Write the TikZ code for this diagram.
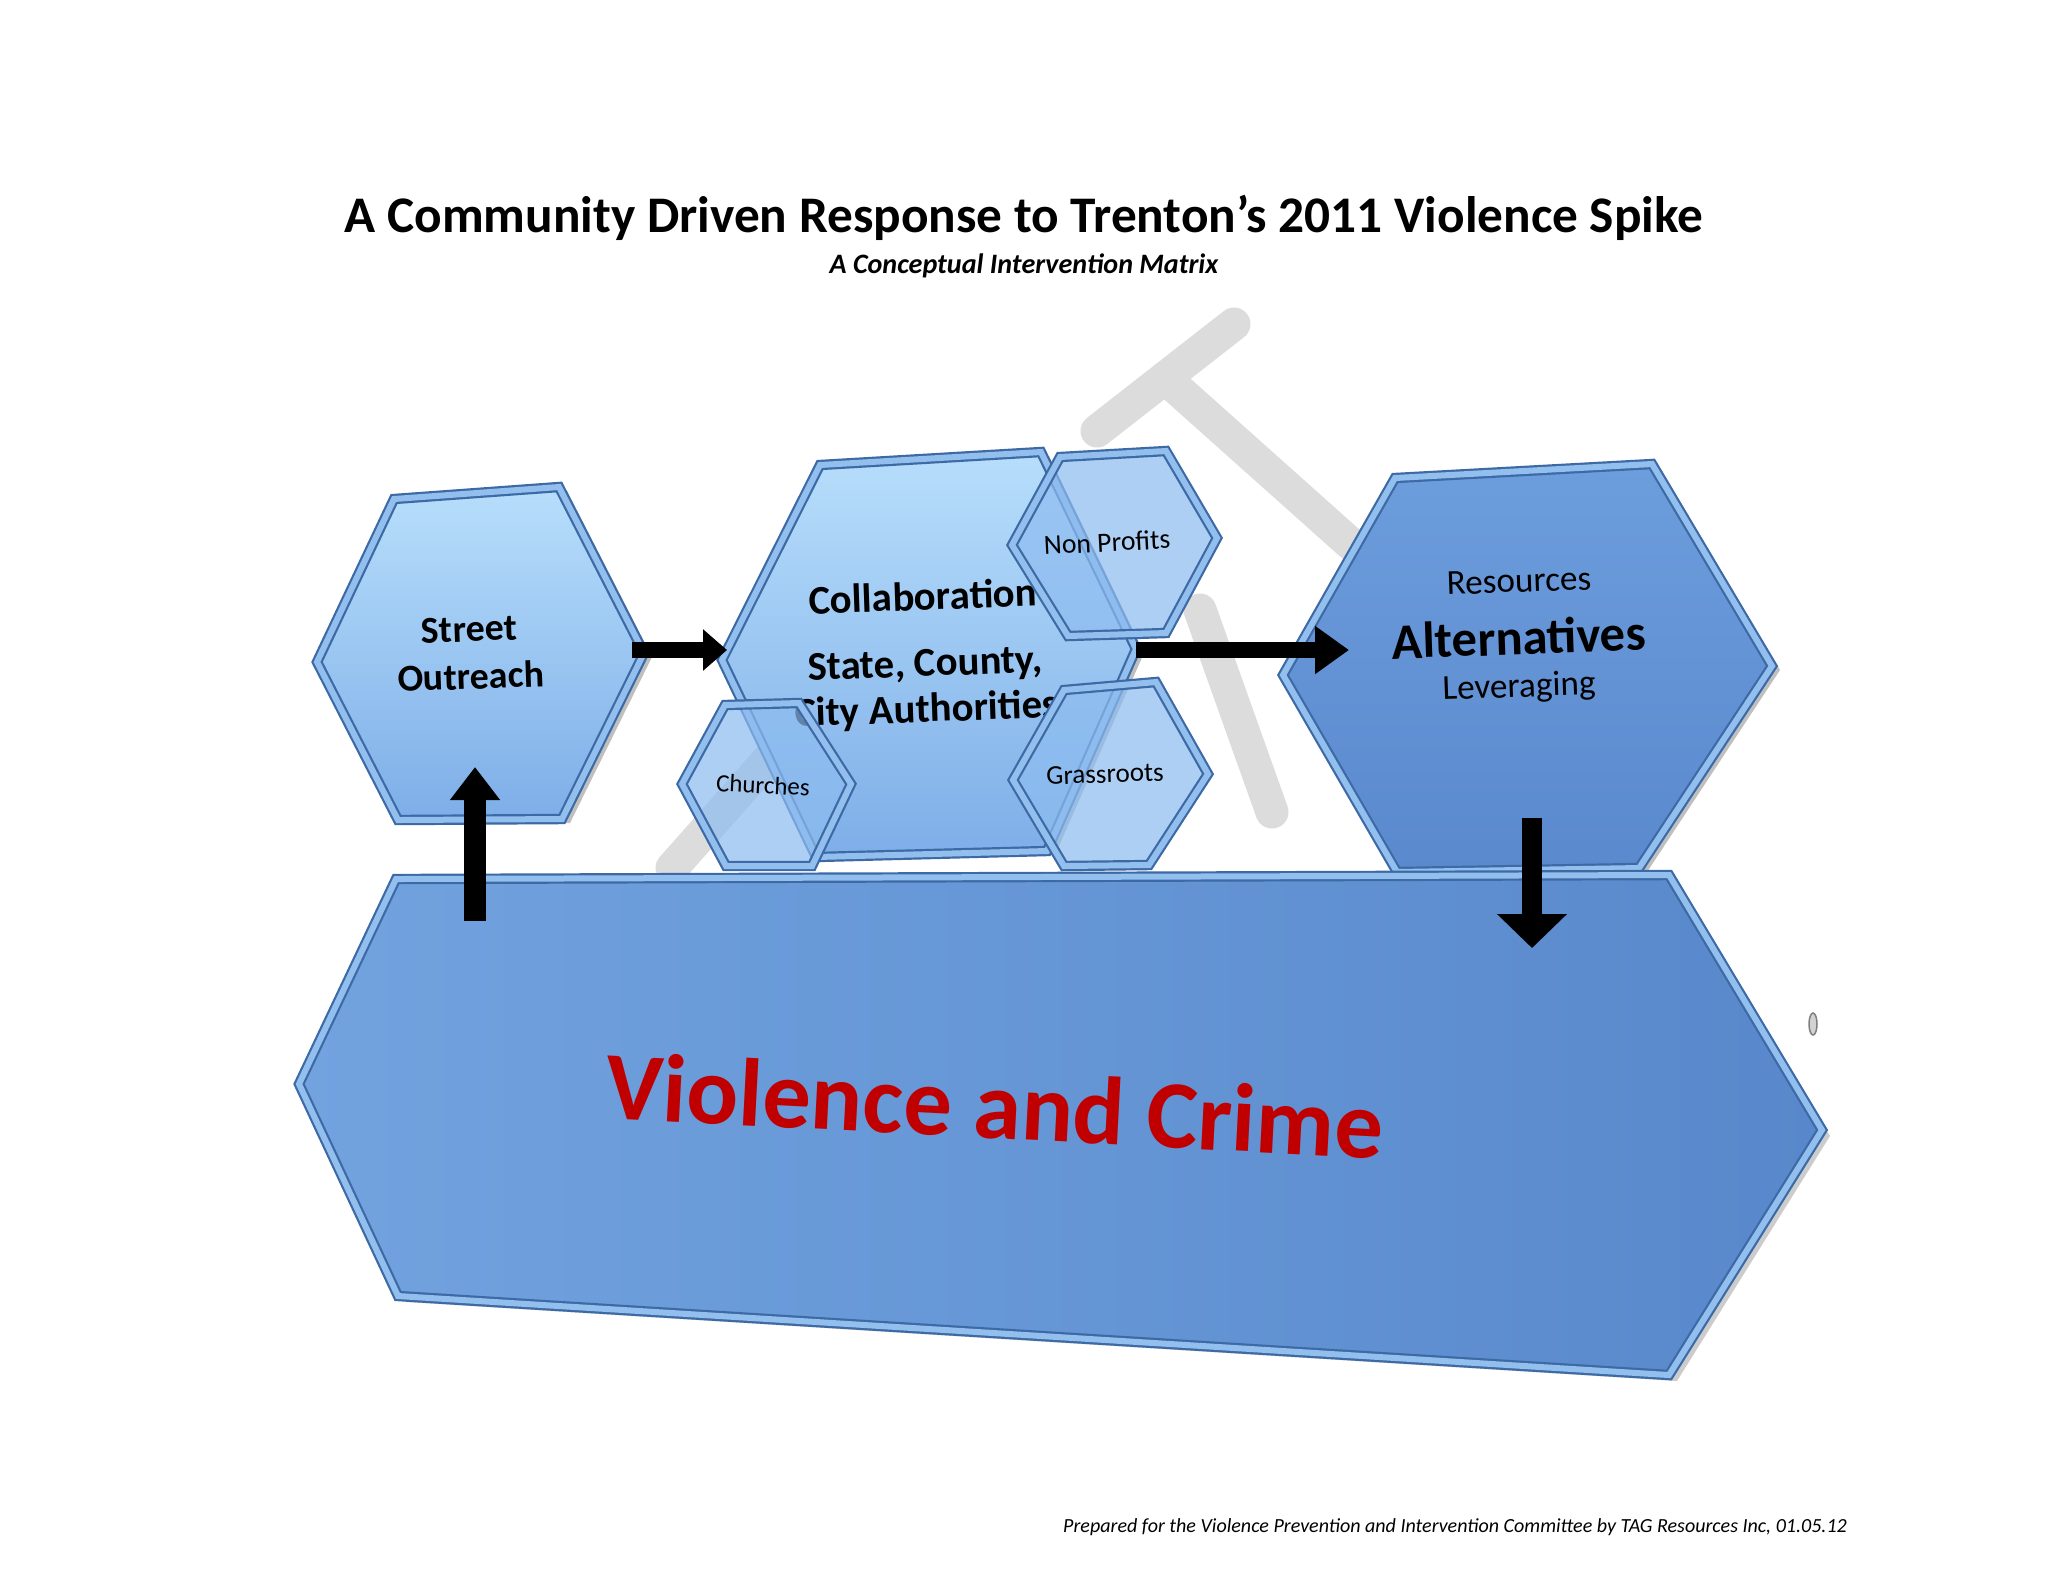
\documentclass[tikz,border=0pt]{standalone}
\usepackage{fontspec}
\setmainfont{Carlito}
\usetikzlibrary{arrows.meta,shadows}

\definecolor{hextop}{HTML}{B7DEFB}
\definecolor{hexbot}{HTML}{7EAEE8}
\definecolor{hexglass}{HTML}{8DBCF0}
\definecolor{alttop}{HTML}{6C9DDC}
\definecolor{altbot}{HTML}{5A89CE}
\definecolor{crimeleft}{HTML}{72A3DF}
\definecolor{crimeright}{HTML}{5888CB}
\definecolor{hexedge}{HTML}{3D6AA5}
\definecolor{hexbevel}{HTML}{93BFEE}
\definecolor{crimered}{HTML}{C00000}
\definecolor{logogray}{HTML}{DCDCDC}

\tikzset{
	hexline/.style={draw=hexedge, line width=0.22mm, double=hexbevel, double distance=0.6mm, line join=miter},
	hexbox/.style={hexline, top color=hextop, bottom color=hexbot,
		drop shadow={shadow xshift=0.8mm, shadow yshift=-0.4mm, opacity=0.5}},
	hexsmall/.style={hexline, fill=hexglass, fill opacity=0.7},
	hexdeep/.style={hexline, top color=alttop, bottom color=altbot,
		drop shadow={shadow xshift=0.8mm, shadow yshift=-0.4mm, opacity=0.5}},
	crimebox/.style={hexline, left color=crimeleft, right color=crimeright,
		drop shadow={shadow xshift=0.8mm, shadow yshift=-0.6mm, opacity=0.4}},
	logomark/.style={draw=logogray, line width=3.3mm, line cap=round},
	hextext/.style={text=black, align=center, inner sep=0pt},
	flowarrow/.style={draw=black, line width=#1}
}

\begin{document}
\begin{tikzpicture}[x=0.1mm,y=-0.1mm]
	
	\useasboundingbox[fill=white] (0,0) rectangle (2048,1582);
	
	\draw[logomark] (1097,431) -- (1234,324);
	\draw[logomark] (1165,378) -- (1352,545);
	\draw[logomark] (1200,610) -- (1272,812);
	\draw[logomark] (672,868) -- (790,735);
	
	\node[text = black,
	font = \bfseries\fontsize{14.6}{17}\selectfont] (title) at (1024,218) {A Community Driven Response to Trenton’s 2011 Violence Spike};
	
	\node[text = black,
	font = \bfseries\itshape\fontsize{8}{10}\selectfont] (subtitle) at (1024,266) {A Conceptual Intervention Matrix};
	
	\filldraw[hexbox] (394,499) -- (559,487) -- (644,653) -- (562,819) -- (398,820) -- (317,662) -- cycle;
	\node[hextext,
	rotate = 2,
	font = \bfseries\fontsize{10.8}{13.6}\selectfont] (outreach) at (470,653) {Street\\Outreach};
	
	\filldraw[hexbox] (820,465) -- (1041,452) -- (1136,649) -- (1047,851) -- (816,857) -- (722,660) -- cycle;
	\node[hextext,
	rotate = 2,
	font = \bfseries\fontsize{11.6}{13}\selectfont] (collab) at (923,596) {Collaboration};
	\node[hextext,
	rotate = 2,
	font = \bfseries\fontsize{11.6}{13}\selectfont] (authorities) at (926,689) {State, County,\\City Authorities};
	
	\filldraw[hexsmall] (1060,457) -- (1166,451) -- (1217,538) -- (1166,633) -- (1068,636) -- (1012,545) -- cycle;
	\node[hextext,
	rotate = 3,
	font = \fontsize{7.9}{9}\selectfont] (nonprofits) at (1107,542) {Non Profits};
	
	\filldraw[hexsmall] (1064,690) -- (1156,682) -- (1208,774) -- (1149,865) -- (1064,866) -- (1013,780) -- cycle;
	\node[hextext,
	rotate = 2,
	font = \fontsize{7.7}{9}\selectfont] (grassroots) at (1105,774) {Grassroots};
	
	\filldraw[hexsmall] (725,705) -- (799,703) -- (851,784) -- (812,866) -- (726,866) -- (682,784) -- cycle;
	\node[hextext,
	rotate = -3,
	font = \fontsize{7.1}{9}\selectfont] (churches) at (763,785) {Churches};
	
	\filldraw[hexdeep] (1395,478) -- (1652,464) -- (1772,666) -- (1639,868) -- (1397,872) -- (1283,675) -- cycle;
	\node[hextext,
	rotate = 2,
	font = \fontsize{10}{12}\selectfont] (resources) at (1519,581) {Resources};
	\node[hextext,
	rotate = 2,
	font = \bfseries\fontsize{14.4}{16}\selectfont] (alternatives) at (1519,637) {Alternatives};
	\node[hextext,
	rotate = 2,
	font = \fontsize{10}{12}\selectfont] (leveraging) at (1519,688) {Leveraging};
	
	\filldraw[crimebox] (396,879) -- (1669,875) -- (1822,1130) -- (1669,1375) -- (398,1296) -- (299,1084) -- cycle;
	\node[hextext,
	text = crimered,
	rotate = -3,
	font = \bfseries\fontsize{27.5}{30}\selectfont] (crime) at (995,1105) {Violence and Crime};
	
	\filldraw[draw=gray, fill=gray!35, line width=0.15mm] (1813,1024) ellipse [x radius=4, y radius=11];
	
	\coordinate (so-out) at (632,650);
	\coordinate (co-in) at (727,650);
	\coordinate (co-out) at (1136,650);
	\coordinate (al-in) at (1349,650);
	\coordinate (al-out) at (1532,818);
	\coordinate (vc-in) at (1532,948);
	\coordinate (vc-out) at (475,921);
	\coordinate (so-in) at (475,767);
	
	\draw[flowarrow=1.6mm, -{Triangle[length=2.4mm, width=4mm]}] (so-out) to (co-in);
	\draw[flowarrow=1.6mm, -{Triangle[length=3.4mm, width=4.6mm]}] (co-out) to (al-in);
	\draw[flowarrow=2mm, -{Triangle[length=3.4mm, width=6.8mm]}] (al-out) to (vc-in);
	\draw[flowarrow=2.2mm, -{Triangle[length=3.3mm, width=4.8mm]}] (vc-out) to (so-in);
	
	\node[text = black,
	font = \itshape\fontsize{5.7}{7}\selectfont] (footer) at (1455,1527) {Prepared for the Violence Prevention and Intervention Committee by TAG Resources Inc, 01.05.12};
	
\end{tikzpicture}
\end{document}
